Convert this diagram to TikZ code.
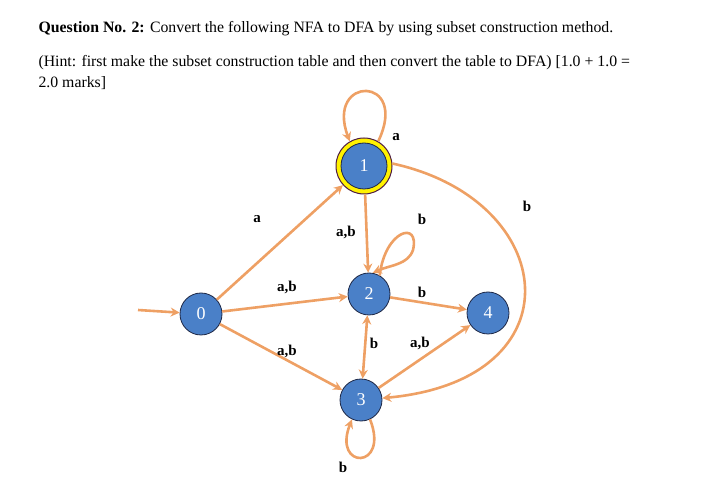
\documentclass[tikz,border=0pt]{standalone}
\usepackage{fontspec}
\setmainfont{Liberation Serif}
\usetikzlibrary{arrows.meta}
\definecolor{edge}{RGB}{238,160,100}
\definecolor{nfill}{RGB}{74,128,200}
\definecolor{nbord}{RGB}{30,40,70}
\begin{document}
\begin{tikzpicture}[x=1pt,y=-1pt,
  st/.style={circle,fill=nfill,draw=nbord,line width=0.8pt,minimum size=42pt,inner sep=0pt,text=white,font=\fontsize{18}{18}\selectfont},
  ed/.style={draw=edge,line width=2.6pt,-{Stealth[length=9pt,width=9pt]}},
  lb/.style={font=\bfseries\fontsize{15}{15}\selectfont}]
\useasboundingbox (0,0) rectangle (705,478);
\node[anchor=base west,font=\fontsize{15.8}{18}\selectfont] (t1) at (35,33) {\textbf{Question No. 2:} Convert the following NFA to DFA by using subset construction method.};
\node[anchor=base west,font=\fontsize{15.8}{18}\selectfont] (t2) at (35,67) {(Hint: first make the subset construction table and then convert the table to DFA) [1.0 + 1.0 =};
\node[anchor=base west,font=\fontsize{15.8}{18}\selectfont] (t3) at (35,88) {2.0 marks]};
\node[st] (n0) at (201,314) {0};
\node[circle,fill=yellow,draw=nbord!70!purple,line width=1pt,minimum size=56pt] (n1o) at (364,166) {};
\node[st,minimum size=46pt] (n1) at (364,166) {1};
\node[st] (n2) at (369,294) {2};
\node[st] (n3) at (361,400) {3};
\node[st] (n4) at (488,313) {4};
\coordinate (s) at (138,310);
\draw[ed] (s) -- (n0);
\draw[ed] (n0) -- (n1o);
\node[lb] (la1) at (257,219) {a};
\draw[ed] (n0) -- (n2);
\node[lb] (la2) at (287,287) {a,b};
\draw[ed] (n0) -- (n3);
\node[lb] (la3) at (287,351) {a,b};
\draw[ed] (n1o) -- (n2);
\node[lb] (la4) at (346,232) {a,b};
\draw[ed] (n1o.60) .. controls (410,75) and (325,75) .. (n1o.120);
\node[lb] (la) at (396,137) {a};
\draw[ed] (n1o.5) .. controls (560,200) and (580,380) .. (n3.5);
\node[lb] (lb1) at (527,206) {b};
\draw[ed] (n2.60) .. controls (385,230) and (420,220) .. (413,250) .. controls (408,265) and (390,265) .. (n2.80);
\node[lb] (lb2) at (422,219) {b};
\draw[ed] (n2) -- (n4);
\node[lb] (lb4) at (422,292) {b};
\draw[ed,{Stealth[length=9pt,width=9pt]}-{Stealth[length=9pt,width=9pt]}] (n2) -- (n3);
\node[lb] (lb5) at (374,343) {b};
\draw[ed] (n3) -- (n4);
\node[lb] (lab) at (420,343) {a,b};
\draw[ed] (n3.-65) .. controls (390,470) and (332,470) .. (n3.-115);
\node[lb] (lb3) at (343,467) {b};
\end{tikzpicture}
\end{document}
